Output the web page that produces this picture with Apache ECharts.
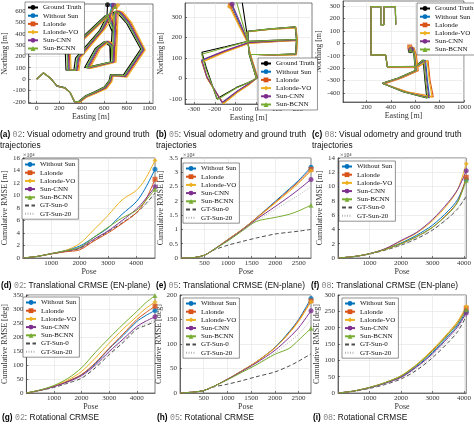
<!DOCTYPE html>
<html lang="en">
<head>
<meta charset="UTF-8">
<title>Sun-BCNN VO trajectories and CRMSE</title>
<style>html,body{margin:0;padding:0;background:#fff}</style>
</head>
<body>
<div id="chart" style="width:474px;height:426px"></div>
<script src="https://cdn.jsdelivr.net/npm/echarts@6/dist/echarts.min.js"></script>
<script>
// names used in the legends
const trajNames = ['Ground Truth', 'Without Sun', 'Lalonde', 'Lalonde-VO', 'Sun-CNN', 'Sun-BCNN'];
const errNames = ['Without Sun', 'Lalonde', 'Lalonde-VO', 'Sun-CNN', 'Sun-BCNN', 'GT-Sun-0', 'GT-Sun-20'];

// ---- trajectories [Easting, Northing] in m, order = trajNames ----
const traj02 = [
  [[0,0],[60,55],[120,10],[180,-60],[250,-75],[295,-115],[335,-200],[375,-195],[430,-150],[520,-110],[600,-70],[645,-10],[655,40],[770,35],[925,265],[800,490],[720,580],[680,590],[665,300],[655,150],[425,100],[520,270],[600,330],[650,290],[655,150],[670,420],[610,560],[330,300],[255,220],[260,80],[330,75],[345,185],[560,430],[625,560],[630,655]],
  [[0,0],[60,55],[120,10],[180,-62],[250,-78],[296,-118],[337,-203],[378,-198],[434,-153],[525,-114],[606,-75],[652,-14],[664,36],[782,28],[942,262],[818,492],[738,586],[698,598],[684,305],[676,152],[445,98],[538,272],[620,335],[670,292],[676,150],[690,425],[632,568],[350,305],[274,225],[280,82],[350,78],[366,190],[580,438],[648,570],[672,652]],
  [[0,0],[60,54],[121,9],[181,-63],[252,-80],[298,-120],[340,-206],[382,-202],[440,-158],[532,-120],[614,-82],[662,-20],[674,30],[795,20],[958,258],[836,494],[756,590],[716,602],[702,305],[694,150],[462,94],[556,270],[640,335],[690,290],[696,148],[710,428],[650,572],[366,306],[290,226],[296,80],[366,76],[382,188],[598,440],[666,575],[690,640]],
  [[0,0],[60,54],[121,9],[182,-63],[253,-81],[300,-121],[342,-207],[385,-204],[444,-160],[537,-123],[620,-86],[668,-24],[681,27],[803,16],[966,256],[846,495],[766,592],[726,604],[712,305],[704,148],[472,92],[566,268],[650,334],[700,288],[706,146],[720,430],[660,575],[376,307],[300,226],[306,80],[376,75],[392,187],[608,442],[700,580],[722,652]],
  [[0,0],[60,55],[120,10],[181,-62],[251,-79],[297,-119],[339,-205],[380,-200],[437,-156],[528,-117],[610,-78],[657,-17],[669,33],[788,24],[950,260],[826,493],[746,588],[706,600],[693,305],[685,151],[453,96],[547,271],[630,335],[680,291],[686,149],[700,426],[640,570],[358,305],[282,225],[288,81],[358,77],[374,189],[588,439],[655,570],[684,650]],
  [[0,0],[60,55],[120,10],[180,-61],[250,-77],[296,-117],[336,-202],[377,-197],[433,-152],[523,-112],[603,-72],[650,-12],[660,38],[778,30],[936,263],[812,490],[732,584],[692,596],[678,303],[670,152],[438,99],[532,271],[614,333],[664,291],[670,150],[684,424],[626,565],[345,303],[270,224],[275,81],[345,77],[360,188],[574,436],[640,568],[695,640]]
];
const traj05 = [
  [[0,0],[-18,60],[-35,118],[80,116],[188,120],[192,190],[80,186],[-40,182],[-150,155],[-262,128],[-240,50],[-190,-98],[-95,-43],[-40,-20],[0,0],[-35,118],[-40,182],[-40,230],[70,242],[186,252],[192,190],[-40,182],[-52,262],[-68,370]],
  [[0,0],[-16,60],[-30,118],[84,114],[191,117],[195,187],[83,181],[-37,174],[-150,134],[-263,88],[-238,5],[-162,-118],[-90,-62],[-38,-28],[4,4],[-31,119],[-41,177],[-43,229],[67,240],[189,249],[195,187],[-41,177],[-78,262],[-120,358]],
  [[0,0],[-15,60],[-28,118],[85,114],[192,116],[196,186],[84,180],[-37,172],[-150,130],[-262,82],[-236,0],[-160,-121],[-88,-64],[-36,-29],[5,5],[-30,120],[-42,176],[-44,228],[66,240],[190,248],[196,186],[-42,176],[-82,260],[-125,355]],
  [[0,0],[-15,60],[-27,118],[86,113],[193,116],[197,185],[85,179],[-36,171],[-150,128],[-262,80],[-235,-3],[-158,-123],[-87,-65],[-35,-30],[6,6],[-29,121],[-43,175],[-45,227],[65,239],[191,247],[197,185],[-43,175],[-85,258],[-130,352]],
  [[0,0],[-16,60],[-31,118],[84,115],[190,118],[194,188],[82,182],[-38,175],[-150,136],[-263,90],[-238,8],[-165,-116],[-91,-60],[-39,-27],[4,4],[-32,119],[-41,178],[-43,230],[68,241],[188,250],[194,188],[-41,178],[-75,265],[-117,362]],
  [[0,0],[-17,60],[-34,118],[81,116],[189,120],[193,190],[81,185],[-40,181],[-152,150],[-263,118],[-241,42],[-187,-102],[-94,-45],[-40,-21],[2,2],[-34,118],[-41,181],[-42,230],[69,242],[187,252],[193,190],[-41,181],[-66,268],[-95,372]]
];
const traj08 = [
  [[440,150],[437,295],[344,295],[344,150],[317,150],[317,295],[237,295],[237,-94],[357,-94],[371,-188],[600,-185],[665,-134],[680,-300],[695,-440],[500,-390],[330,-322],[460,-280],[600,-220],[590,-100],[575,-40],[560,-60]],
  [[440,150],[437,295],[344,295],[344,150],[317,150],[317,295],[237,295],[237,-94],[358,-95],[372,-190],[612,-187],[685,-137],[700,-300],[718,-438],[515,-390],[335,-324],[470,-281],[610,-221],[598,-100],[582,-38],[563,-42]],
  [[440,150],[437,295],[344,295],[344,150],[317,150],[317,295],[237,295],[237,-94],[358,-97],[373,-192],[625,-190],[705,-140],[722,-300],[748,-432],[540,-392],[345,-328],[485,-282],[625,-222],[610,-100],[590,-35],[555,-30]],
  [[440,150],[437,295],[344,295],[344,150],[317,150],[317,295],[237,295],[237,-94],[358,-96],[373,-191],[620,-189],[698,-139],[715,-300],[738,-434],[530,-391],[340,-326],[478,-282],[618,-222],[604,-100],[586,-36],[558,-35]],
  [[440,150],[437,295],[344,295],[344,150],[317,150],[317,295],[237,295],[237,-94],[357,-95],[372,-189],[608,-186],[678,-136],[694,-300],[712,-439],[510,-390],[333,-323],[466,-281],[606,-221],[595,-100],[580,-39],[565,-48]],
  [[441,150],[438,295],[345,295],[345,150],[318,150],[318,295],[238,295],[238,-94],[357,-94],[371,-188],[603,-185],[670,-134],[685,-300],[702,-441],[505,-390],[331,-322],[462,-280],[602,-220],[592,-100],[577,-40],[562,-52]]
];

// ---- cumulative RMSE, order = errNames ----
const poses02 = [0, 500, 1000, 1500, 2000, 2500, 3000, 3500, 4000, 4300, 4661];
const poses05 = [0, 300, 500, 700, 1000, 1300, 1600, 2000, 2300, 2500, 2761];
const poses08 = [0, 500, 1000, 1500, 2000, 2500, 3000, 3500, 3800, 4071];

// translational, x10^4 m
const trans02 = [
  [0, 0.25, 0.7, 1.2, 1.9, 3.3, 4.8, 7.0, 9.0, 11.0, 14.2],
  [0, 0.25, 0.65, 1.0, 1.3, 2.7, 4.0, 5.5, 7.2, 9.0, 12.6],
  [0, 0.25, 0.7, 1.2, 2.3, 4.5, 6.8, 9.3, 10.8, 12.5, 15.6],
  [0, 0.25, 0.7, 1.1, 1.6, 3.0, 4.3, 6.0, 7.8, 9.3, 11.4],
  [0, 0.25, 0.7, 1.15, 1.7, 3.3, 4.9, 6.4, 7.6, 9.0, 11.0],
  [0, 0.25, 0.65, 1.05, 1.5, 2.8, 4.2, 5.6, 7.2, 8.5, 10.4],
  [0, 0.25, 0.65, 1.05, 1.5, 2.9, 4.4, 5.8, 7.3, 8.4, 10.0]
];
const trans05 = [
  [0, 0.02, 0.1, 0.3, 0.65, 1.0, 1.4, 1.98, 2.42, 2.72, 3.18],
  [0, 0.02, 0.1, 0.3, 0.65, 1.0, 1.4, 1.95, 2.38, 2.67, 3.1],
  [0, 0.02, 0.1, 0.3, 0.65, 1.0, 1.38, 1.92, 2.33, 2.62, 3.05],
  [0, 0.02, 0.1, 0.3, 0.63, 0.98, 1.35, 1.8, 2.15, 2.4, 2.75],
  [0, 0.02, 0.1, 0.3, 0.6, 0.95, 1.28, 1.42, 1.53, 1.65, 1.85],
  [0, 0.02, 0.1, 0.28, 0.45, 0.58, 0.7, 0.84, 0.9, 0.94, 1.0],
  [0, 0.02, 0.1, 0.3, 0.62, 0.95, 1.3, 1.7, 2.0, 2.2, 2.5]
];
const trans08 = [
  [0, 0.2, 0.6, 1.25, 2.1, 3.2, 4.6, 6.6, 8.2, 11.0],
  [0, 0.2, 0.6, 1.2, 2.0, 3.0, 4.3, 6.3, 7.9, 11.3],
  [0, 0.2, 0.6, 1.3, 2.35, 3.5, 5.2, 7.6, 9.6, 13.2],
  [0, 0.2, 0.6, 1.3, 2.45, 3.6, 5.4, 7.8, 9.6, 12.2],
  [0, 0.2, 0.6, 1.2, 2.0, 3.0, 4.3, 6.2, 7.8, 10.9],
  [0, 0.2, 0.55, 1.1, 1.8, 2.7, 3.9, 5.6, 6.9, 8.6],
  [0, 0.2, 0.55, 1.1, 1.8, 2.8, 4.0, 5.7, 7.0, 8.8]
];
// rotational, deg
const rot02 = [
  [0, 10, 24, 42, 65, 105, 158, 205, 255, 275, 295],
  [0, 10, 24, 42, 66, 108, 160, 210, 262, 285, 310],
  [0, 10, 25, 46, 77, 125, 178, 228, 273, 300, 325],
  [0, 10, 23, 40, 62, 100, 148, 192, 237, 255, 272],
  [0, 11, 27, 52, 90, 145, 196, 245, 291, 320, 348],
  [0, 9, 20, 35, 53, 90, 137, 180, 228, 240, 255],
  [0, 9, 21, 37, 56, 95, 142, 186, 232, 246, 262]
];
const rot05 = [
  [0, 2, 5, 13, 28, 45, 63, 93, 125, 150, 193],
  [0, 2, 5, 13, 28, 45, 63, 92, 123, 148, 188],
  [0, 2, 5, 13, 28, 45, 63, 92, 122, 146, 186],
  [0, 2, 5, 13, 28, 44, 61, 87, 113, 133, 168],
  [0, 2, 5, 13, 27, 42, 57, 79, 91, 108, 132],
  [0, 2, 5, 12, 18, 25, 33, 43, 55, 65, 80],
  [0, 2, 5, 13, 27, 42, 58, 82, 104, 120, 150]
];
const rot08 = [
  [0, 6, 17, 31, 50, 82, 124, 175, 208, 250],
  [0, 6, 17, 32, 52, 86, 130, 182, 215, 260],
  [0, 6, 17, 32, 53, 88, 133, 185, 220, 265],
  [0, 6, 16, 30, 48, 80, 120, 170, 203, 245],
  [0, 6, 17, 32, 52, 86, 128, 180, 213, 255],
  [0, 5, 14, 26, 43, 70, 108, 155, 188, 235],
  [0, 5, 15, 28, 46, 75, 114, 163, 196, 240]
];

// tick labels
const ticksA_x = [0, 200, 400, 600, 800, 1000];
const ticksA_y = [-200, -100, 0, 100, 200, 300, 400, 500, 600];
const ticksB_x = [-300, -200, -100, 0, 100, 200];
const ticksB_y = [-100, 0, 100, 200, 300];
const ticksC_x = [200, 400, 600, 800, 1000];
const ticksC_y = [-400, -300, -200, -100, 0, 100, 200, 300];
const ticksPose4k = [1000, 2000, 3000, 4000];
const ticksPose05 = [500, 1000, 1500, 2000, 2500];

// styles (MATLAB default colours)
const colors = {
  'Ground Truth': '#000000', 'Without Sun': '#0072BD', 'Lalonde': '#D95319', 'Lalonde-VO': '#EDB120',
  'Sun-CNN': '#7E2F8E', 'Sun-BCNN': '#77AC30', 'GT-Sun-0': '#4d4d4d', 'GT-Sun-20': '#b3b3b3'
};
const marks = {
  'Ground Truth': 'circle', 'Without Sun': 'circle', 'Lalonde': 'rect', 'Lalonde-VO': 'diamond',
  'Sun-CNN': 'circle', 'Sun-BCNN': 'triangle'
};

const SERIF = 'Liberation Serif';
const SANS = 'Liberation Sans';
const INK = '#262626';

const panels = [
  { grid: [24, 4, 129, 99], x: [-71, 1034], y: [-211, 662], xt: ticksA_x, yt: ticksA_y, xName: 'Easting [m]', yName: 'Northing [m]', yGap: 15, lg: [25, 2], traj: traj02 },
  { grid: [185, 3, 127, 101], x: [-343, 267], y: [-124, 368], xt: ticksB_x, yt: ticksB_y, xName: 'Easting [m]', yName: 'Northing [m]', yGap: 19, lg: [258, 58], traj: traj05 },
  { grid: [343, 1, 124, 101], x: [8, 1000], y: [-473, 340], xt: ticksC_x, yt: ticksC_y, xName: 'Easting [m]', yName: 'Northing [m]', yGap: 20, lg: [417, 3], traj: traj08 },
  { grid: [21, 158, 134, 100], x: [0, 4661], y: [0, 16], yi: 2, xt: ticksPose4k, xName: 'Pose', yName: 'Cumulative RMSE [m]', yGap: 12, lg: [22, 159], poses: poses02, rows: trans02, exp: true },
  { grid: [181, 158, 130, 100], x: [0, 2761], y: [0, 3.5], yi: 0.5, xt: ticksPose05, xName: 'Pose', yName: 'Cumulative RMSE [m]', yGap: 14, lg: [183, 163], poses: poses05, rows: trans05, exp: true },
  { grid: [338, 158, 131, 100], x: [0, 4071], y: [0, 14], yi: 2, xt: ticksPose4k, xName: 'Pose', yName: 'Cumulative RMSE [m]', yGap: 12, lg: [339, 161], poses: poses08, rows: trans08, exp: true },
  { grid: [21, 295, 134, 98], x: [0, 4661], y: [0, 350], yi: 50, xt: ticksPose4k, xName: 'Pose', yName: 'Cumulative RMSE [deg]', yGap: 12, lg: [23, 297], poses: poses02, rows: rot02 },
  { grid: [180, 295, 131, 98], x: [0, 2761], y: [0, 200], yi: 50, xt: ticksPose05, xName: 'Pose', yName: 'Cumulative RMSE [deg]', yGap: 14, lg: [183, 298], poses: poses05, rows: rot05 },
  { grid: [338, 295, 131, 98], x: [0, 4071], y: [0, 300], yi: 50, xt: ticksPose4k, xName: 'Pose', yName: 'Cumulative RMSE [deg]', yGap: 12, lg: [342, 298], poses: poses08, rows: rot08 }
];

const captions = [
  [0, 129, 'a', '02', 'Visual odometry and ground truth', 'trajectories'],
  [156, 129, 'b', '05', 'Visual odometry and ground truth', 'trajectories'],
  [312, 129, 'c', '08', 'Visual odometry and ground truth', 'trajectories'],
  [1, 280, 'd', '02', 'Translational CRMSE (EN-plane)'],
  [156, 280, 'e', '05', 'Translational CRMSE (EN-plane)'],
  [311, 280, 'f', '08', 'Translational CRMSE (EN-plane)'],
  [2, 412, 'g', '02', 'Rotational CRMSE'],
  [157, 412, 'h', '05', 'Rotational CRMSE'],
  [313, 412, 'i', '08', 'Rotational CRMSE']
];

const axisLabelStyle = { fontFamily: SERIF, fontSize: 7, color: '#333', formatter: v => String(v) };
const nameStyle = { fontFamily: SERIF, fontSize: 8, color: '#333' };

function makeAxis(i, range, ticks, interval, name, gap, vertical) {
  const ax = {
    gridIndex: i, type: 'value', min: range[0], max: range[1],
    name: name, nameLocation: 'middle', nameGap: gap, nameTextStyle: nameStyle,
    axisLine: { show: true, onZero: false, lineStyle: { color: INK, width: 0.6 } },
    axisTick: { show: true, inside: true, length: 2, lineStyle: { color: INK, width: 0.6 } },
    axisLabel: Object.assign({ margin: vertical ? 3 : 2, hideOverlap: false }, axisLabelStyle),
    splitLine: { show: true, lineStyle: { color: '#e3e3e3', width: 0.6 } }
  };
  if (interval) {
    ax.interval = interval;
  } else {
    ax.axisTick.customValues = ticks;
    ax.axisLabel.customValues = ticks;
    ax.splitLine.customValues = ticks;
  }
  if (vertical) ax.nameRotate = 90;
  return ax;
}

// the line itself, no symbols drawn along it (symbol kept for the legend icon)
function lineSeries(name, i, pts, width, smooth) {
  const plain = name === 'GT-Sun-0' || name === 'GT-Sun-20';
  const s = {
    type: 'line', name: name, xAxisIndex: i, yAxisIndex: i, data: pts,
    smooth: smooth, showSymbol: false, symbol: marks[name] || 'circle', symbolSize: 5,
    lineStyle: { color: colors[name], width: width }, itemStyle: { color: colors[name] },
    emphasis: { disabled: true }, z: 2
  };
  if (plain) {
    s.itemStyle = { color: 'rgba(0,0,0,0)' };
    s.lineStyle.type = name === 'GT-Sun-0' ? [4, 2.5] : [1, 1.5];
    s.z = 1;
  }
  return s;
}

// MATLAB style end marker on the last point of a line
function endMarker(name, i, pts) {
  return {
    type: 'scatter', name: name, xAxisIndex: i, yAxisIndex: i, data: [pts[pts.length - 1]],
    symbol: marks[name], symbolSize: 5, itemStyle: { color: colors[name] },
    emphasis: { disabled: true }, z: 4
  };
}

const grids = [], xAxes = [], yAxes = [], series = [], legends = [], titles = [], graphics = [];

panels.forEach((p, i) => {
  grids.push({ left: p.grid[0], top: p.grid[1], width: p.grid[2], height: p.grid[3], show: true, borderColor: INK, borderWidth: 0.6, backgroundColor: '#fff' });
  xAxes.push(makeAxis(i, p.x, p.xt, null, p.xName, 10, false));
  yAxes.push(makeAxis(i, p.y, p.yt, p.yi, p.yName, p.yGap, true));
  let names;
  const ends = [];
  if (p.traj) {
    names = trajNames;
    p.traj.forEach((pts, k) => {
      series.push(lineSeries(trajNames[k], i, pts, 1.1, false));
      ends.push(endMarker(trajNames[k], i, pts));
    });
  } else {
    names = errNames;
    p.rows.forEach((vals, k) => {
      const pts = p.poses.map((x, j) => [x, vals[j]]);
      series.push(lineSeries(errNames[k], i, pts, 1, 0.3));
      if (marks[errNames[k]]) ends.push(endMarker(errNames[k], i, pts));
    });
  }
  series.push(...ends);
  legends.push({
    left: p.lg[0], top: p.lg[1], orient: 'vertical', data: names, selectedMode: false,
    itemWidth: 10, itemHeight: 6, itemGap: 1.2, padding: [2, 3, 2, 2],
    backgroundColor: '#fff', borderColor: INK, borderWidth: 0.5,
    textStyle: { fontFamily: SERIF, fontSize: 7, color: '#111', lineHeight: 7 }
  });
  if (p.exp) {
    graphics.push({ type: 'text', left: p.grid[0] + 2, top: p.grid[1] - 6, z: 10,
      style: { text: '×10⁴', font: '6px "Liberation Serif"', fill: '#333' } });
  }
});

const rich = {
  b: { fontFamily: SANS, fontWeight: 'bold', fontSize: 8.3, color: '#000', lineHeight: 11 },
  m: { fontFamily: 'Liberation Mono', fontSize: 8.3, color: '#888', lineHeight: 11 },
  n: { fontFamily: SANS, fontSize: 8.3, color: '#111', lineHeight: 11 }
};
captions.forEach(c => {
  let t = `{b|(${c[2]})} {m|${c[3]}}{n|: ${c[4]}}`;
  if (c[5]) t += `\n{n|${c[5]}}`;
  titles.push({ left: c[0], top: c[1], padding: 0, text: t, textStyle: { fontSize: 8.3, fontWeight: 'normal', rich: rich } });
});

const chart = echarts.init(document.getElementById('chart'));
chart.setOption({
  animation: false,
  backgroundColor: '#fff',
  title: titles,
  grid: grids,
  xAxis: xAxes,
  yAxis: yAxes,
  legend: legends,
  graphic: graphics,
  series: series
});
</script>
</body>
</html>
